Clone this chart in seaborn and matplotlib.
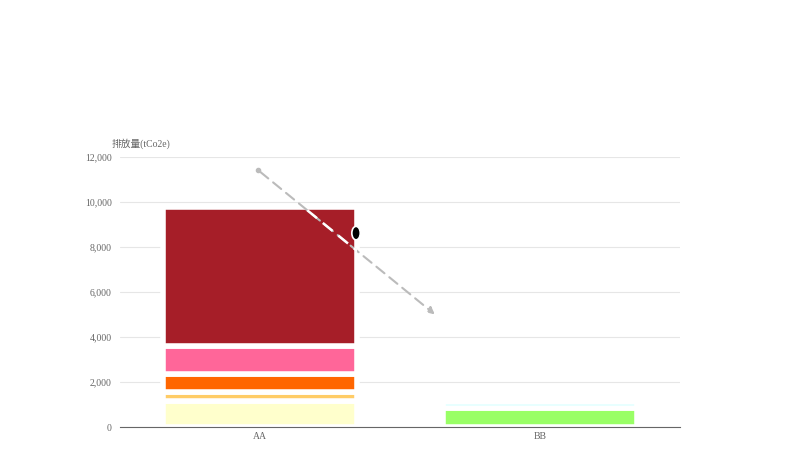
import matplotlib
matplotlib.use("Agg")
import matplotlib.pyplot as plt
import seaborn as sns
from matplotlib.patches import Ellipse

categories = ["AA", "BB"]
aa_values = [1170, 400, 800, 1230, 6200]
aa_colors = ["#ffffcc", "#ffcc66", "#ff6600", "#ff6699", "#a61e28"]
bb_values = [840, 270]
bb_colors = ["#99ff66", "#99ffff"]
yticks = [0, 2000, 4000, 6000, 8000, 10000, 12000]

sns.set_theme(style="white")
plt.rcParams['font.family'] = ['Liberation Serif', 'Noto Sans CJK SC', 'DejaVu Sans']

fig = plt.figure(figsize=(8, 4.5), dpi=100)
ax = fig.add_axes([0.15, 0.051, 0.70, 0.60])

w = 0.69
patches = []
for i, (vals, cols) in enumerate([(aa_values, aa_colors), (bb_values, bb_colors)]):
    bottom = 0
    for v, c in zip(vals, cols):
        b = ax.bar(i, v, bottom=bottom, width=w, color=c, edgecolor="white", linewidth=4, zorder=2)
        patches.append(b[0])
        bottom += v

ax.set_xlim(-0.5, 1.5)
ax.set_ylim(0, 12000)
ax.set_yticks(yticks)
ax.set_yticklabels([f"{t:,}" for t in yticks], fontsize=7, color="#666666")
ax.set_xticks([0, 1])
ax.set_xticklabels(categories, fontsize=7, color="#666666")
ax.set_xticks([-0.5, 0.5, 1.5], minor=True)
ax.tick_params(axis="x", which="major", length=0)
ax.tick_params(axis="x", which="minor", length=4, color="#666666", direction="out")
ax.tick_params(axis="y", length=0, pad=6)
ax.grid(axis="y", color="#e6e6e6", linewidth=0.8, zorder=0)
ax.set_axisbelow(True)
for s in ["top", "right", "left"]:
    ax.spines[s].set_visible(False)
ax.spines["bottom"].set_color("#666666")
ax.spines["bottom"].set_linewidth(0.8)
ax.text(-0.015, 1.03, "排放量(tCo2e)", transform=ax.transAxes, fontsize=7, color="#666666", ha="left", va="bottom")

x0, y0, x1, y1 = -0.007, 11420, 0.632, 4930
ax.annotate("", xy=(x1, y1), xytext=(x0, y0),
            arrowprops=dict(arrowstyle="-|>", color="#bbbbbb", lw=1.5, linestyle=(0, (5, 3)), mutation_scale=10), zorder=3)
ln, = ax.plot([x0 + 0.01, x1], [y0 - 100, y1], color="white", lw=1.8, linestyle=(0, (5, 3)), zorder=4)
ln.set_clip_path(patches[4])
ax.plot([x0], [y0], marker="o", ms=3, color="#bbbbbb", zorder=4)
ax.add_patch(Ellipse((0.343, 8620), 0.03, 600, angle=0, facecolor="black", edgecolor="white", lw=1.2, zorder=5))

fig.savefig("out.png", dpi=100)
